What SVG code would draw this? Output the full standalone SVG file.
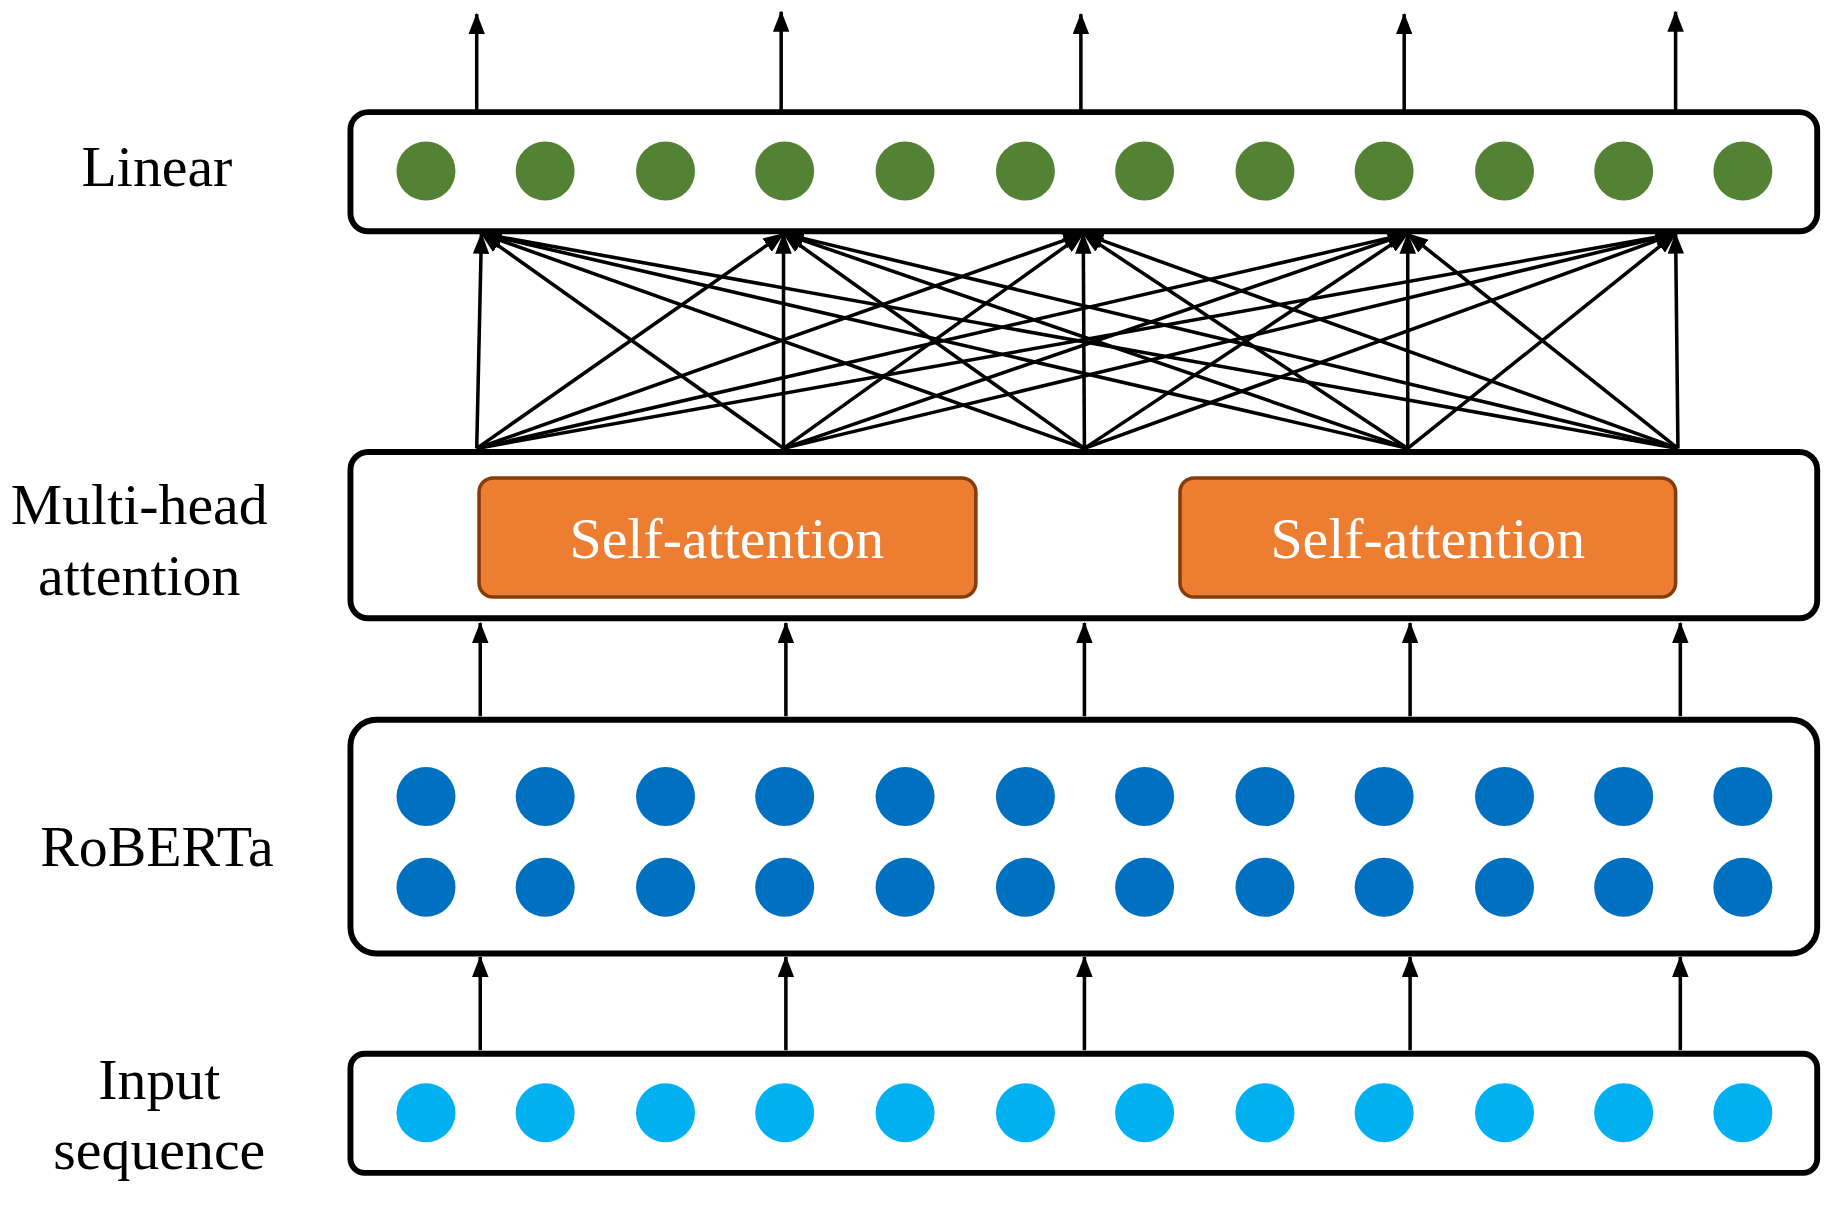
<svg xmlns="http://www.w3.org/2000/svg" width="1847" height="1206" viewBox="0 0 1847 1206">
<defs>
<marker id="ah" markerWidth="18" markerHeight="14" refX="17" refY="7" orient="auto" markerUnits="userSpaceOnUse" viewBox="0 0 18 14"><path d="M0,0 L18,7 L0,14 z" fill="#000"/></marker>
<style>
.box{fill:#fff;stroke:#000;stroke-width:5}
.sa{fill:#ED7D31;stroke:#843C0C;stroke-width:3}
.lbl{font-family:"Liberation Serif",serif;font-size:49px;fill:#000;text-anchor:middle}
.sat{font-family:"Liberation Serif",serif;font-size:49px;fill:#fff;text-anchor:middle}
.c line{stroke:#000;stroke-width:3;marker-end:url(#ah)}
.g{fill:#548235}.b{fill:#0070C0}.lb{fill:#00B0F0}
</style>
</defs>
<rect width="1847" height="1206" fill="#fff"/>
<g transform="scale(1.18,1.18)">
<g id="labels">
<text class="lbl" x="133" y="158">Linear</text>
<text class="lbl" x="118" y="444">Multi-head</text>
<text class="lbl" x="118" y="504">attention</text>
<text class="lbl" x="133" y="734">RoBERTa</text>
<text class="lbl" x="135" y="931">Input</text>
<text class="lbl" x="135" y="991">sequence</text>
</g>
<g id="linear"><rect class="box" x="297" y="95" width="1243" height="101" rx="15"/>
<g class="g"><circle cx="361" cy="145" r="25"/><circle cx="462" cy="145" r="25"/><circle cx="564" cy="145" r="25"/><circle cx="665" cy="145" r="25"/><circle cx="767" cy="145" r="25"/><circle cx="869" cy="145" r="25"/><circle cx="970" cy="145" r="25"/><circle cx="1072" cy="145" r="25"/><circle cx="1173" cy="145" r="25"/><circle cx="1275" cy="145" r="25"/><circle cx="1376" cy="145" r="25"/><circle cx="1477" cy="145" r="25"/></g></g>
<g id="mha"><rect class="box" x="297" y="383" width="1243" height="141" rx="15"/>
<rect class="sa" x="406" y="405" width="421" height="101" rx="12"/><text class="sat" x="616" y="473">Self-attention</text>
<rect class="sa" x="1000" y="405" width="420" height="101" rx="12"/><text class="sat" x="1210" y="473">Self-attention</text></g>
<g id="roberta"><rect class="box" x="297" y="610" width="1243" height="198" rx="22"/>
<g class="b"><circle cx="361" cy="675" r="25"/><circle cx="462" cy="675" r="25"/><circle cx="564" cy="675" r="25"/><circle cx="665" cy="675" r="25"/><circle cx="767" cy="675" r="25"/><circle cx="869" cy="675" r="25"/><circle cx="970" cy="675" r="25"/><circle cx="1072" cy="675" r="25"/><circle cx="1173" cy="675" r="25"/><circle cx="1275" cy="675" r="25"/><circle cx="1376" cy="675" r="25"/><circle cx="1477" cy="675" r="25"/>
<circle cx="361" cy="752" r="25"/><circle cx="462" cy="752" r="25"/><circle cx="564" cy="752" r="25"/><circle cx="665" cy="752" r="25"/><circle cx="767" cy="752" r="25"/><circle cx="869" cy="752" r="25"/><circle cx="970" cy="752" r="25"/><circle cx="1072" cy="752" r="25"/><circle cx="1173" cy="752" r="25"/><circle cx="1275" cy="752" r="25"/><circle cx="1376" cy="752" r="25"/><circle cx="1477" cy="752" r="25"/></g></g>
<g id="input"><rect class="box" x="297" y="893" width="1243" height="101" rx="12"/>
<g class="lb"><circle cx="361" cy="943" r="25"/><circle cx="462" cy="943" r="25"/><circle cx="564" cy="943" r="25"/><circle cx="665" cy="943" r="25"/><circle cx="767" cy="943" r="25"/><circle cx="869" cy="943" r="25"/><circle cx="970" cy="943" r="25"/><circle cx="1072" cy="943" r="25"/><circle cx="1173" cy="943" r="25"/><circle cx="1275" cy="943" r="25"/><circle cx="1376" cy="943" r="25"/><circle cx="1477" cy="943" r="25"/></g></g>
<g id="connectors" class="c">
<line x1="404" y1="95" x2="404" y2="12"/><line x1="662" y1="95" x2="662" y2="10"/><line x1="916" y1="95" x2="916" y2="12"/><line x1="1190" y1="95" x2="1190" y2="12"/><line x1="1420" y1="95" x2="1420" y2="10"/>
<line x1="407" y1="607" x2="407" y2="528"/><line x1="666" y1="607" x2="666" y2="528"/><line x1="919" y1="607" x2="919" y2="528"/><line x1="1195" y1="607" x2="1195" y2="528"/><line x1="1424" y1="607" x2="1424" y2="528"/>
<line x1="407" y1="890" x2="407" y2="811"/><line x1="666" y1="890" x2="666" y2="811"/><line x1="919" y1="890" x2="919" y2="811"/><line x1="1195" y1="890" x2="1195" y2="811"/><line x1="1424" y1="890" x2="1424" y2="811"/>
<line x1="404" y1="380" x2="408" y2="198"/><line x1="404" y1="380" x2="664" y2="198"/><line x1="404" y1="380" x2="918" y2="198"/><line x1="404" y1="380" x2="1193" y2="198"/><line x1="404" y1="380" x2="1420" y2="198"/>
<line x1="664" y1="380" x2="408" y2="198"/><line x1="664" y1="380" x2="664" y2="198"/><line x1="664" y1="380" x2="918" y2="198"/><line x1="664" y1="380" x2="1193" y2="198"/><line x1="664" y1="380" x2="1420" y2="198"/>
<line x1="919" y1="380" x2="408" y2="198"/><line x1="919" y1="380" x2="664" y2="198"/><line x1="919" y1="380" x2="918" y2="198"/><line x1="919" y1="380" x2="1193" y2="198"/><line x1="919" y1="380" x2="1420" y2="198"/>
<line x1="1193" y1="380" x2="408" y2="198"/><line x1="1193" y1="380" x2="664" y2="198"/><line x1="1193" y1="380" x2="918" y2="198"/><line x1="1193" y1="380" x2="1193" y2="198"/><line x1="1193" y1="380" x2="1420" y2="198"/>
<line x1="1422" y1="380" x2="408" y2="198"/><line x1="1422" y1="380" x2="664" y2="198"/><line x1="1422" y1="380" x2="918" y2="198"/><line x1="1422" y1="380" x2="1193" y2="198"/><line x1="1422" y1="380" x2="1420" y2="198"/>
</g>
</g>
</svg>
